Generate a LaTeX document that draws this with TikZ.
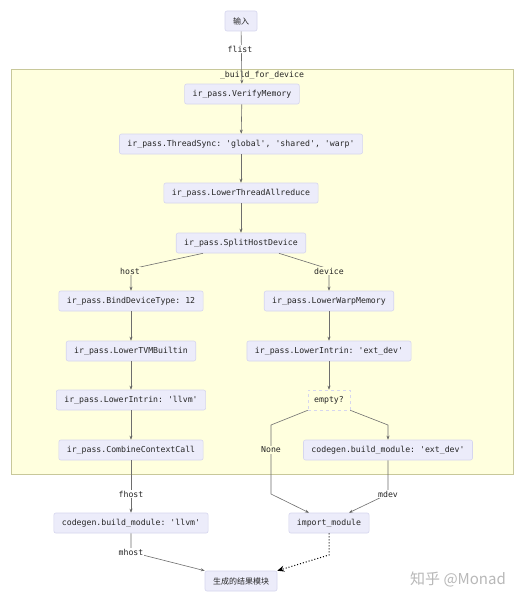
\documentclass[tikz,border=0pt]{standalone}
\usepackage{fontspec}
\setmonofont{DejaVu Sans Mono}
\newfontfamily\cjk{Noto Sans CJK SC}
\usetikzlibrary{arrows.meta}
\definecolor{nodefill}{HTML}{ECECFA}
\definecolor{nodeline}{HTML}{D6D6EE}
\definecolor{boxfill}{HTML}{FFFFDE}
\definecolor{boxline}{HTML}{C8C89A}
\definecolor{edgecol}{HTML}{6E6E6E}
\tikzset{
  x=1pt,y=-1pt,
  proc/.style={draw=nodeline,fill=nodefill,rounded corners=2pt,line width=0.6pt,
    minimum height=20pt,inner xsep=8pt,inner ysep=0pt,font=\fontsize{8.2}{10}\ttfamily,text=black!85},
  cproc/.style={proc,font=\fontsize{8}{10}\cjk},
  decis/.style={draw=nodeline,dashed,fill=boxfill,line width=0.6pt,minimum height=20pt,
    minimum width=42pt,inner xsep=4pt,font=\fontsize{8.2}{10}\ttfamily,text=black!85},
  lbl/.style={fill=white,inner sep=1pt,font=\fontsize{8.2}{10}\ttfamily,text=black!85},
  blbl/.style={lbl,fill=boxfill},
  edge/.style={draw=edgecol,line width=0.6pt,-{Stealth[length=4pt,width=3pt,fill=black]}},
  dotedge/.style={draw=black,line width=1pt,dotted,-{Stealth[length=7pt,width=6pt,fill=black]}},
}
\begin{document}
\begin{tikzpicture}
\useasboundingbox (0,0) rectangle (520,602);
\fill[white] (0,0) rectangle (520,602);
% container
\draw[draw=boxline,fill=boxfill,line width=0.6pt] (11,69) rectangle (513,474);
\node[font=\fontsize{8.2}{10}\ttfamily,text=black!85] (boxlbl) at (262,75) {\_build\_for\_device};

\node[cproc] (in) at (241,21) {输入};
\node[proc] (vm) at (242,94) {ir\_pass.VerifyMemory};
\node[proc] (ts) at (241,144) {ir\_pass.ThreadSync: 'global', 'shared', 'warp'};
\node[proc] (lta) at (241,193) {ir\_pass.LowerThreadAllreduce};
\node[proc] (shd) at (241,243) {ir\_pass.SplitHostDevice};
\node[proc] (bdt) at (131,301) {ir\_pass.BindDeviceType: 12};
\node[proc] (ltb) at (131,351) {ir\_pass.LowerTVMBuiltin};
\node[proc] (lil) at (131,400) {ir\_pass.LowerIntrin: 'llvm'};
\node[proc] (ccc) at (131,450) {ir\_pass.CombineContextCall};
\node[proc] (lwm) at (329,301) {ir\_pass.LowerWarpMemory};
\node[proc] (lie) at (329,351) {ir\_pass.LowerIntrin: 'ext\_dev'};
\node[decis] (emp) at (329,400) {empty?};
\node[proc] (cge) at (388,450) {codegen.build\_module: 'ext\_dev'};
\node[proc] (cgl) at (131,523) {codegen.build\_module: 'llvm'};
\node[proc] (imp) at (329,523) {import\_module};
\node[cproc] (out) at (241,581) {生成的结果模块};

% label anchor coordinates
\coordinate (hostc) at (131,269);
\coordinate (devc) at (329,269);
\coordinate (nonec) at (271,425);
\coordinate (noneb) at (271,494);
\coordinate (emprc) at (388,425);
\coordinate (mdevc) at (388,494);
\coordinate (mhostc) at (131,552);
\coordinate (dotc) at (329,555);

% edges
\draw[edge] (in) -- (vm);
\draw[edge] (vm) -- (ts);
\draw[edge] (ts) -- (lta);
\draw[edge] (lta) -- (shd);
\draw[edge] ([xshift=-38pt]shd.south) -- (hostc) -- (bdt.north);
\draw[edge] ([xshift=38pt]shd.south) -- (devc) -- (lwm.north);
\draw[edge] (bdt) -- (ltb);
\draw[edge] (ltb) -- (lil);
\draw[edge] (lil) -- (ccc);
\draw[edge] (lwm) -- (lie);
\draw[edge] (lie) -- (emp);
\draw[edge] (emp.south west) -- (nonec) -- (noneb) -- ([xshift=-20pt]imp.north);
\draw[edge] (emp.south east) -- (emprc) -- (cge.north);
\draw[edge] (cge.south) -- (mdevc) -- ([xshift=20pt]imp.north);
\draw[edge] (ccc) -- (cgl);
\draw[edge] (cgl.south) -- (mhostc) -- (out.north west);
\draw[dotedge] (imp.south) -- (dotc) -- (out.north east);

% edge labels
\node[lbl] (flist) at (240,49) {flist};
\node[blbl] (host) at (130,271) {host};
\node[blbl] (dev) at (329,271) {device};
\node[blbl] (none) at (271,450) {None};
\node[lbl] (fhost) at (131,494) {fhost};
\node[lbl] (mdev) at (388,494) {mdev};
\node[lbl] (mhost) at (131,552) {mhost};

% watermark
\node[font=\fontsize{15}{18}\cjk,text=black!28] (wm) at (458,579) {知乎 @Monad};
\end{tikzpicture}
\end{document}
